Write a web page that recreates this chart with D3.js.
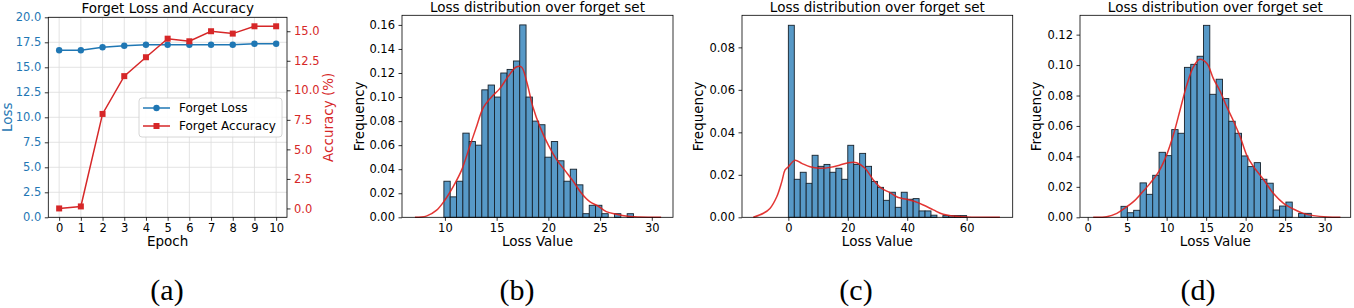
<!DOCTYPE html>
<html>
<head>
<meta charset="utf-8">
<script src="https://cdn.jsdelivr.net/npm/d3@7"></script>
<style>
  body { margin: 0; background: #fff; }
  svg text { font-family: "DejaVu Sans", sans-serif; }
</style>
</head>
<body>
<svg id="fig" width="1354" height="308"></svg>
<script>
// ---- data ----
// (a) training curves
const epochs = [0, 1, 2, 3, 4, 5, 6, 7, 8, 9, 10];
const forgetLoss = [16.7, 16.7, 17.0, 17.15, 17.25, 17.25, 17.25, 17.25, 17.25, 17.35, 17.35];
const forgetAcc = [0.0, 0.17, 8.0, 11.2, 12.8, 14.37, 14.15, 15.0, 14.8, 15.42, 15.42];
const lossTicks = [0, 2.5, 5, 7.5, 10, 12.5, 15, 17.5, 20];
const accTicks = [0, 2.5, 5, 7.5, 10, 12.5, 15];

// (b) histogram + kde
const histB = [0.030, 0.017, 0.030, 0.070, 0.063, 0.060, 0.106, 0.110, 0.100, 0.120,
               0.123, 0.130, 0.160, 0.100, 0.080, 0.077, 0.050, 0.063, 0.047, 0.030,
               0.040, 0.027, 0.003, 0.010, 0.010, 0.003, 0, 0.003, 0, 0.003];
const histBStart = 9.9, histBWidth = 0.611;
const kdeBX = [7.1, 8.2, 9.2, 10.0, 10.8, 11.6, 12.4, 13.0, 13.7, 14.5, 15.3, 16.1, 16.9, 17.4,
               17.9, 18.5, 19.2, 20.0, 20.8, 21.6, 22.4, 23.2, 24.0, 24.8, 25.6, 26.6, 27.5, 28.8, 30.9];
const kdeBY = [0, 0.001, 0.006, 0.0144, 0.0255, 0.039, 0.059, 0.074, 0.091, 0.100, 0.107, 0.117, 0.125, 0.125,
               0.113, 0.092, 0.075, 0.060, 0.048, 0.039, 0.030, 0.020, 0.013, 0.0094, 0.0047, 0.0025, 0.001, 0.0003, 0];
const xTicksB = [10, 15, 20, 25, 30];
const yTicksB = [0, 0.02, 0.04, 0.06, 0.08, 0.10, 0.12, 0.14, 0.16];

// (c) histogram + kde
const histC = [0.0904, 0.0179, 0.0212, 0.016, 0.0292, 0.024, 0.0249, 0.0212, 0.0231, 0.0179,
               0.0339, 0.0249, 0.0301, 0.024, 0.0169, 0.0141, 0.008, 0.0118, 0.0047, 0.0118,
               0.0085, 0.0088, 0.003, 0.003, 0.001, 0, 0.0008, 0.0008, 0.0008, 0.0008];
const histCStart = 0, histCWidth = 2.0;
const kdeCX = [-11.8, -8.4, -6.2, -3.9, -2.2, -1.1, 0, 2.2, 4.5, 7.3, 10.7, 14.0, 17.4, 20.2, 23.0,
               25.8, 28.6, 31.4, 34.2, 37.0, 39.8, 42.6, 45.4, 48.8, 52.1, 55.5, 60.0, 71.2];
const kdeCY = [0, 0.0019, 0.0042, 0.0097, 0.0168, 0.0223, 0.0238, 0.0268, 0.0254, 0.0238, 0.0231, 0.0235,
               0.0246, 0.0257, 0.0257, 0.0231, 0.0176, 0.0136, 0.0116, 0.0093, 0.0085, 0.0074, 0.0058,
               0.0035, 0.0014, 0.0006, 0.0002, 0];
const xTicksC = [0, 20, 40, 60];
const yTicksC = [0, 0.02, 0.04, 0.06, 0.08];

// (d) histogram + kde
const histD = [0.0072, 0.003, 0.0046, 0.0226, 0.0151, 0.0276, 0.0427, 0.0405, 0.0576, 0.0552,
               0.0985, 0.1005, 0.1058, 0.1261, 0.0808, 0.0907, 0.078, 0.0631, 0.0552, 0.0403,
               0.0333, 0.0359, 0.025, 0.0224, 0.0048, 0.0074, 0.010, 0, 0.0026, 0.0026];
const histDStart = 4.22, histDWidth = 0.803;
const kdeDX = [0.7, 2.4, 3.7, 4.7, 5.8, 6.8, 7.9, 9.0, 10.0, 10.9, 11.7, 12.5, 13.4, 14.2, 15.1, 15.9,
               16.8, 17.6, 18.5, 19.3, 20.2, 21.0, 22.3, 23.5, 24.8, 26.1, 27.3, 28.6, 30.3, 32.0];
const kdeDY = [0, 0.0004, 0.0026, 0.006, 0.0103, 0.0158, 0.0223, 0.030, 0.041, 0.055, 0.0705, 0.086,
               0.099, 0.1038, 0.101, 0.0913, 0.0825, 0.0727, 0.0628, 0.053, 0.040, 0.0333, 0.0245,
               0.0158, 0.0092, 0.0053, 0.0026, 0.0011, 0.0002, 0];
const xTicksD = [0, 5, 10, 15, 20, 25, 30];
const yTicksD = [0, 0.02, 0.04, 0.06, 0.08, 0.10, 0.12];

const subLabels = ['(a)', '(b)', '(c)', '(d)'];

// ---- styling ----
const BLUE = '#1f77b4';
const RED = '#d62728';
const BAR_FILL = '#5799c7';
const KDE_RED = '#e0201e';
const TICK_FONT = '11.5px';
const LABEL_FONT = '13.5px';

const svg = d3.select('#fig');

function styleAxis(g, color) {
    g.select('.domain').remove();
    g.selectAll('.tick line').attr('stroke', '#000').attr('stroke-width', 0.8);
    g.selectAll('.tick text')
        .style('font-size', TICK_FONT)
        .style('font-family', '"DejaVu Sans", sans-serif')
        .attr('fill', color || '#000');
}

function frame(box) {
    svg.append('rect')
        .attr('x', box.left).attr('y', box.top)
        .attr('width', box.right - box.left).attr('height', box.bottom - box.top)
        .attr('fill', 'none').attr('stroke', '#000').attr('stroke-width', 0.8);
}

// ---- (a) loss and accuracy ----
function drawCurves() {
    const box = { left: 48.3, right: 287, top: 17.3, bottom: 217.3 };
    const x = d3.scaleLinear().domain([-0.5, 10.5]).range([box.left, box.right]);
    const yL = d3.scaleLinear().domain([0, 20]).range([box.bottom, box.top]);
    const yR = d3.scaleLinear().domain([-0.75, 16.18]).range([box.bottom, box.top]);

    const grid = svg.append('g').attr('stroke', '#dcdcdc').attr('stroke-width', 0.8);
    grid.selectAll('.gx').data(epochs).enter().append('line')
        .attr('x1', d => x(d)).attr('x2', d => x(d))
        .attr('y1', box.top).attr('y2', box.bottom);
    grid.selectAll('.gy').data(lossTicks).enter().append('line')
        .attr('x1', box.left).attr('x2', box.right)
        .attr('y1', d => yL(d)).attr('y2', d => yL(d));

    const lineL = d3.line().x((d, i) => x(epochs[i])).y(d => yL(d));
    const lineR = d3.line().x((d, i) => x(epochs[i])).y(d => yR(d));

    svg.append('path').datum(forgetLoss).attr('d', lineL)
        .attr('fill', 'none').attr('stroke', BLUE).attr('stroke-width', 1.5);
    svg.selectAll('.mL').data(forgetLoss).enter().append('circle')
        .attr('cx', (d, i) => x(epochs[i])).attr('cy', d => yL(d)).attr('r', 3.2)
        .attr('fill', BLUE);

    svg.append('path').datum(forgetAcc).attr('d', lineR)
        .attr('fill', 'none').attr('stroke', RED).attr('stroke-width', 1.5);
    svg.selectAll('.mR').data(forgetAcc).enter().append('rect')
        .attr('x', (d, i) => x(epochs[i]) - 3).attr('y', d => yR(d) - 3)
        .attr('width', 6).attr('height', 6).attr('fill', RED);

    frame(box);

    svg.append('g').attr('transform', `translate(0,${box.bottom})`)
        .call(d3.axisBottom(x).tickValues(epochs).tickSize(3.5).tickPadding(3.5))
        .call(g => styleAxis(g));
    svg.append('g').attr('transform', `translate(${box.left},0)`)
        .call(d3.axisLeft(yL).tickValues(lossTicks).tickFormat(d3.format('.1f')).tickSize(3.5).tickPadding(3.5))
        .call(g => styleAxis(g, BLUE));
    svg.append('g').attr('transform', `translate(${box.right},0)`)
        .call(d3.axisRight(yR).tickValues(accTicks).tickFormat(d3.format('.1f')).tickSize(3.5).tickPadding(3.5))
        .call(g => styleAxis(g, RED));

    const cx = (box.left + box.right) / 2;
    svg.append('text').attr('x', cx).attr('y', 13).attr('text-anchor', 'middle')
        .style('font-size', LABEL_FONT).text('Forget Loss and Accuracy');
    svg.append('text').attr('x', cx).attr('y', 246).attr('text-anchor', 'middle')
        .style('font-size', LABEL_FONT).text('Epoch');
    svg.append('text').attr('transform', `translate(11.5,${(box.top + box.bottom) / 2}) rotate(-90)`)
        .attr('text-anchor', 'middle').attr('fill', BLUE)
        .style('font-size', LABEL_FONT).text('Loss');
    svg.append('text').attr('transform', `translate(333,${(box.top + box.bottom) / 2}) rotate(-90)`)
        .attr('text-anchor', 'middle').attr('fill', RED)
        .style('font-size', LABEL_FONT).text('Accuracy (%)');

    // legend
    const lg = svg.append('g').attr('transform', 'translate(139,98)');
    lg.append('rect').attr('width', 143).attr('height', 39).attr('rx', 3)
        .attr('fill', '#fff').attr('fill-opacity', 0.85).attr('stroke', '#cccccc').attr('stroke-width', 0.8);
    const items = [
        { name: 'Forget Loss', color: BLUE, marker: 'circle' },
        { name: 'Forget Accuracy', color: RED, marker: 'square' }
    ];
    items.forEach((it, i) => {
        const yy = 10 + i * 18;
        lg.append('line').attr('x1', 4).attr('x2', 31).attr('y1', yy).attr('y2', yy)
            .attr('stroke', it.color).attr('stroke-width', 1.5);
        if (it.marker === 'circle') {
            lg.append('circle').attr('cx', 17.5).attr('cy', yy).attr('r', 3.2).attr('fill', it.color);
        } else {
            lg.append('rect').attr('x', 14.5).attr('y', yy - 3).attr('width', 6).attr('height', 6).attr('fill', it.color);
        }
        lg.append('text').attr('x', 40).attr('y', yy + 4.3)
            .style('font-size', '12px').text(it.name);
    });
}

// ---- (b)(c)(d) histograms ----
function drawHist(cfg) {
    const box = cfg.box;
    const x = d3.scaleLinear().domain(cfg.xDomain).range([box.left, box.right]);
    const y = d3.scaleLinear().domain(cfg.yDomain).range([box.bottom, box.top]);

    const bins = cfg.hist.map((v, i) => ({
        x0: cfg.start + i * cfg.width,
        x1: cfg.start + (i + 1) * cfg.width,
        v: v
    }));

    svg.append('g').selectAll('rect').data(bins.filter(b => b.v > 0)).enter().append('rect')
        .attr('x', d => x(d.x0))
        .attr('width', d => x(d.x1) - x(d.x0))
        .attr('y', d => y(d.v))
        .attr('height', d => y(0) - y(d.v))
        .attr('fill', BAR_FILL)
        .attr('stroke', '#17222c')
        .attr('stroke-width', 0.9);

    const kde = d3.line()
        .x((d, i) => x(cfg.kdeX[i]))
        .y(d => y(d))
        .curve(d3.curveCatmullRom.alpha(0.5));
    svg.append('path').datum(cfg.kdeY).attr('d', kde)
        .attr('fill', 'none').attr('stroke', KDE_RED).attr('stroke-width', 1.5)
        .attr('stroke-opacity', 0.9);

    frame(box);

    svg.append('g').attr('transform', `translate(0,${box.bottom})`)
        .call(d3.axisBottom(x).tickValues(cfg.xTicks).tickFormat(d3.format('d')).tickSize(3.5).tickPadding(3.5))
        .call(g => styleAxis(g));
    svg.append('g').attr('transform', `translate(${box.left},0)`)
        .call(d3.axisLeft(y).tickValues(cfg.yTicks).tickFormat(d3.format('.2f')).tickSize(3.5).tickPadding(3.5))
        .call(g => styleAxis(g));

    const cx = (box.left + box.right) / 2;
    svg.append('text').attr('x', cx).attr('y', 11.5).attr('text-anchor', 'middle')
        .style('font-size', LABEL_FONT).text('Loss distribution over forget set');
    svg.append('text').attr('x', cx).attr('y', 246).attr('text-anchor', 'middle')
        .style('font-size', LABEL_FONT).text('Loss Value');
    svg.append('text').attr('transform', `translate(${cfg.yLabelX},${(box.top + box.bottom) / 2}) rotate(-90)`)
        .attr('text-anchor', 'middle')
        .style('font-size', LABEL_FONT).text('Frequency');
}

drawCurves();

drawHist({
    box: { left: 402, right: 673, top: 15.3, bottom: 217.3 },
    xDomain: [5.85, 32.05], yDomain: [0, 0.168],
    hist: histB, start: histBStart, width: histBWidth,
    kdeX: kdeBX, kdeY: kdeBY, xTicks: xTicksB, yTicks: yTicksB, yLabelX: 364
});
drawHist({
    box: { left: 742, right: 1012.7, top: 15.3, bottom: 217.3 },
    xDomain: [-15.6, 75.5], yDomain: [0, 0.0951],
    hist: histC, start: histCStart, width: histCWidth,
    kdeX: kdeCX, kdeY: kdeCY, xTicks: xTicksC, yTicks: yTicksC, yLabelX: 702.5
});
drawHist({
    box: { left: 1080, right: 1350.7, top: 15.3, bottom: 217.3 },
    xDomain: [-0.97, 33.3], yDomain: [0, 0.1327],
    hist: histD, start: histDStart, width: histDWidth,
    kdeX: kdeDX, kdeY: kdeDY, xTicks: xTicksD, yTicks: yTicksD, yLabelX: 1041
});

// sub-figure captions
const captionX = [167, 517, 856, 1198];
svg.selectAll('.cap').data(subLabels).enter().append('text')
    .attr('x', (d, i) => captionX[i]).attr('y', 300)
    .attr('text-anchor', 'middle')
    .style('font-family', '"Liberation Serif", "DejaVu Serif", serif')
    .style('font-size', '30px')
    .text(d => d);
</script>
</body>
</html>
